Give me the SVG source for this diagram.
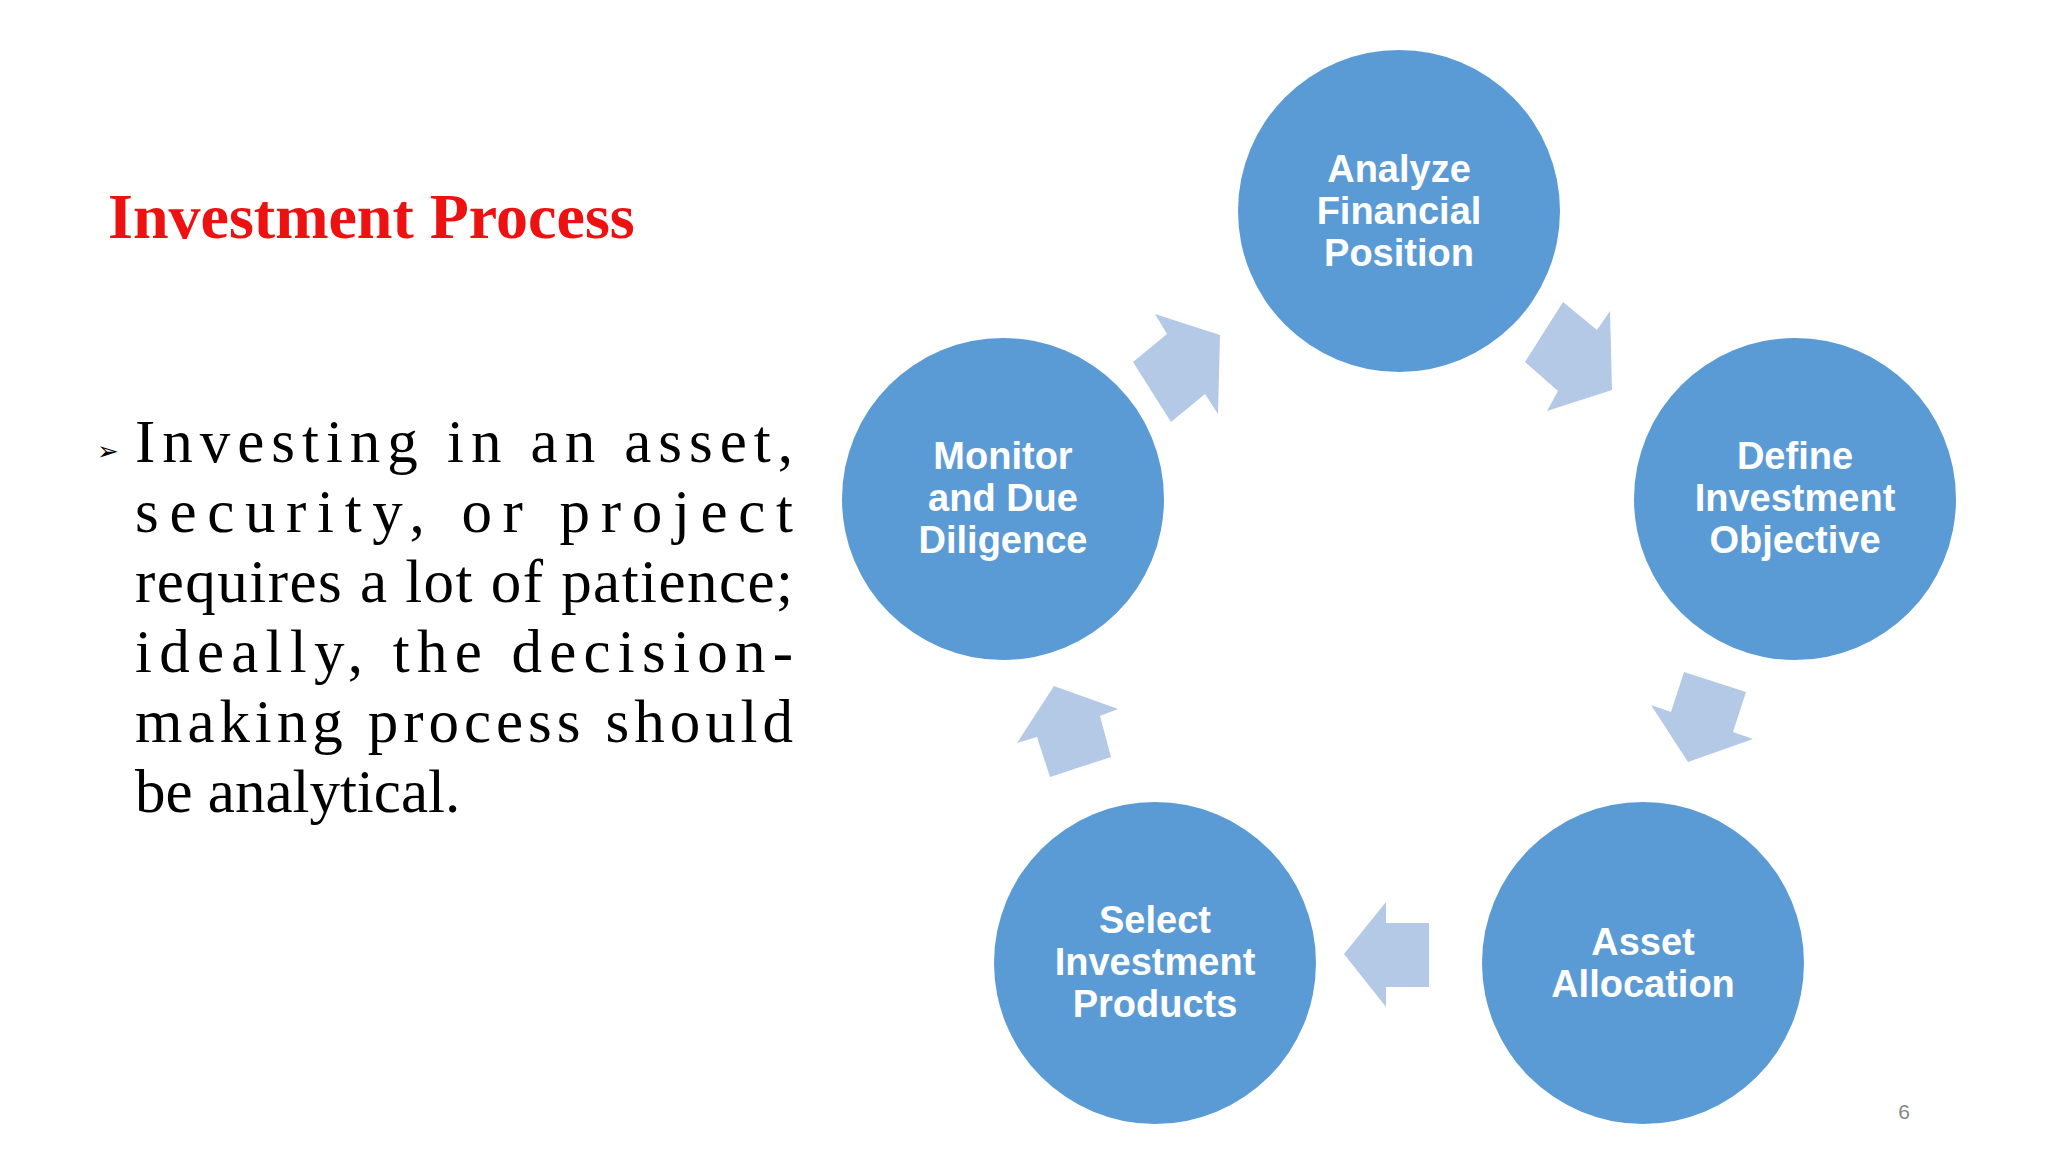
<svg xmlns="http://www.w3.org/2000/svg" width="2048" height="1152" viewBox="0 0 2048 1152">
<style>
.c{fill:#5B9BD5}
.a{fill:#B4C9E6}
.t{font-family:"Liberation Sans",Arial,sans-serif;font-weight:bold;font-size:38px;fill:#fff;text-anchor:middle}
.b{font-family:"Liberation Serif","Times New Roman",serif;font-size:61px;fill:#000}
</style>
<rect width="2048" height="1152" fill="#fff"/>
<text x="108" y="238" font-family="Liberation Serif,Times New Roman,serif" font-weight="bold" font-size="64" fill="#EE1111">Investment Process</text>
<text x="97" y="460" font-family="DejaVu Sans,sans-serif" font-size="26" fill="#000">➢</text>
<g class="b">
<text x="135" y="462" textLength="658" lengthAdjust="spacing">Investing   in   an   asset,</text>
<text x="135" y="532" textLength="658" lengthAdjust="spacing">security,     or     project</text>
<text x="135" y="602" textLength="658" lengthAdjust="spacing">requires a lot of patience;</text>
<text x="135" y="672" textLength="658" lengthAdjust="spacing">ideally,    the    decision-</text>
<text x="135" y="742" textLength="658" lengthAdjust="spacing">making   process   should</text>
<text x="135" y="812">be analytical.</text>
</g>
<text x="1904" y="1119" font-family="Liberation Sans,Arial,sans-serif" font-size="21" fill="#888" text-anchor="middle">6</text>
<g id="connectors">
<polygon class="a" points="1133,362 1167,334 1155,314 1220,335 1218,414 1205,394 1171,422"/>
<polygon class="a" points="1525,362 1563,302 1597,330 1610,311 1612,390 1547,411 1558,391"/>
<polygon class="a" points="1684,672 1746,692 1733,732 1753,739 1688,762 1651,705 1671,712"/>
<polygon class="a" points="1429,923 1386,923 1386,902 1344,954 1386,1007 1386,987 1429,987"/>
<polygon class="a" points="1111,757 1100,716 1118,709 1054,686 1017,743 1037,737 1050,777"/>
</g>
<g id="n1"><circle class="c" cx="1399" cy="211" r="161"/><text class="t"><tspan x="1399" y="182">Analyze</tspan><tspan x="1399" y="224">Financial</tspan><tspan x="1399" y="266">Position</tspan></text></g>
<g id="n2"><circle class="c" cx="1795" cy="499" r="161"/><text class="t"><tspan x="1795" y="469">Define</tspan><tspan x="1795" y="511">Investment</tspan><tspan x="1795" y="553">Objective</tspan></text></g>
<g id="n3"><circle class="c" cx="1643" cy="963" r="161"/><text class="t"><tspan x="1643" y="955">Asset</tspan><tspan x="1643" y="997">Allocation</tspan></text></g>
<g id="n4"><circle class="c" cx="1155" cy="963" r="161"/><text class="t"><tspan x="1155" y="933">Select</tspan><tspan x="1155" y="975">Investment</tspan><tspan x="1155" y="1017">Products</tspan></text></g>
<g id="n5"><circle class="c" cx="1003" cy="499" r="161"/><text class="t"><tspan x="1003" y="469">Monitor</tspan><tspan x="1003" y="511">and Due</tspan><tspan x="1003" y="553">Diligence</tspan></text></g>
</svg>
